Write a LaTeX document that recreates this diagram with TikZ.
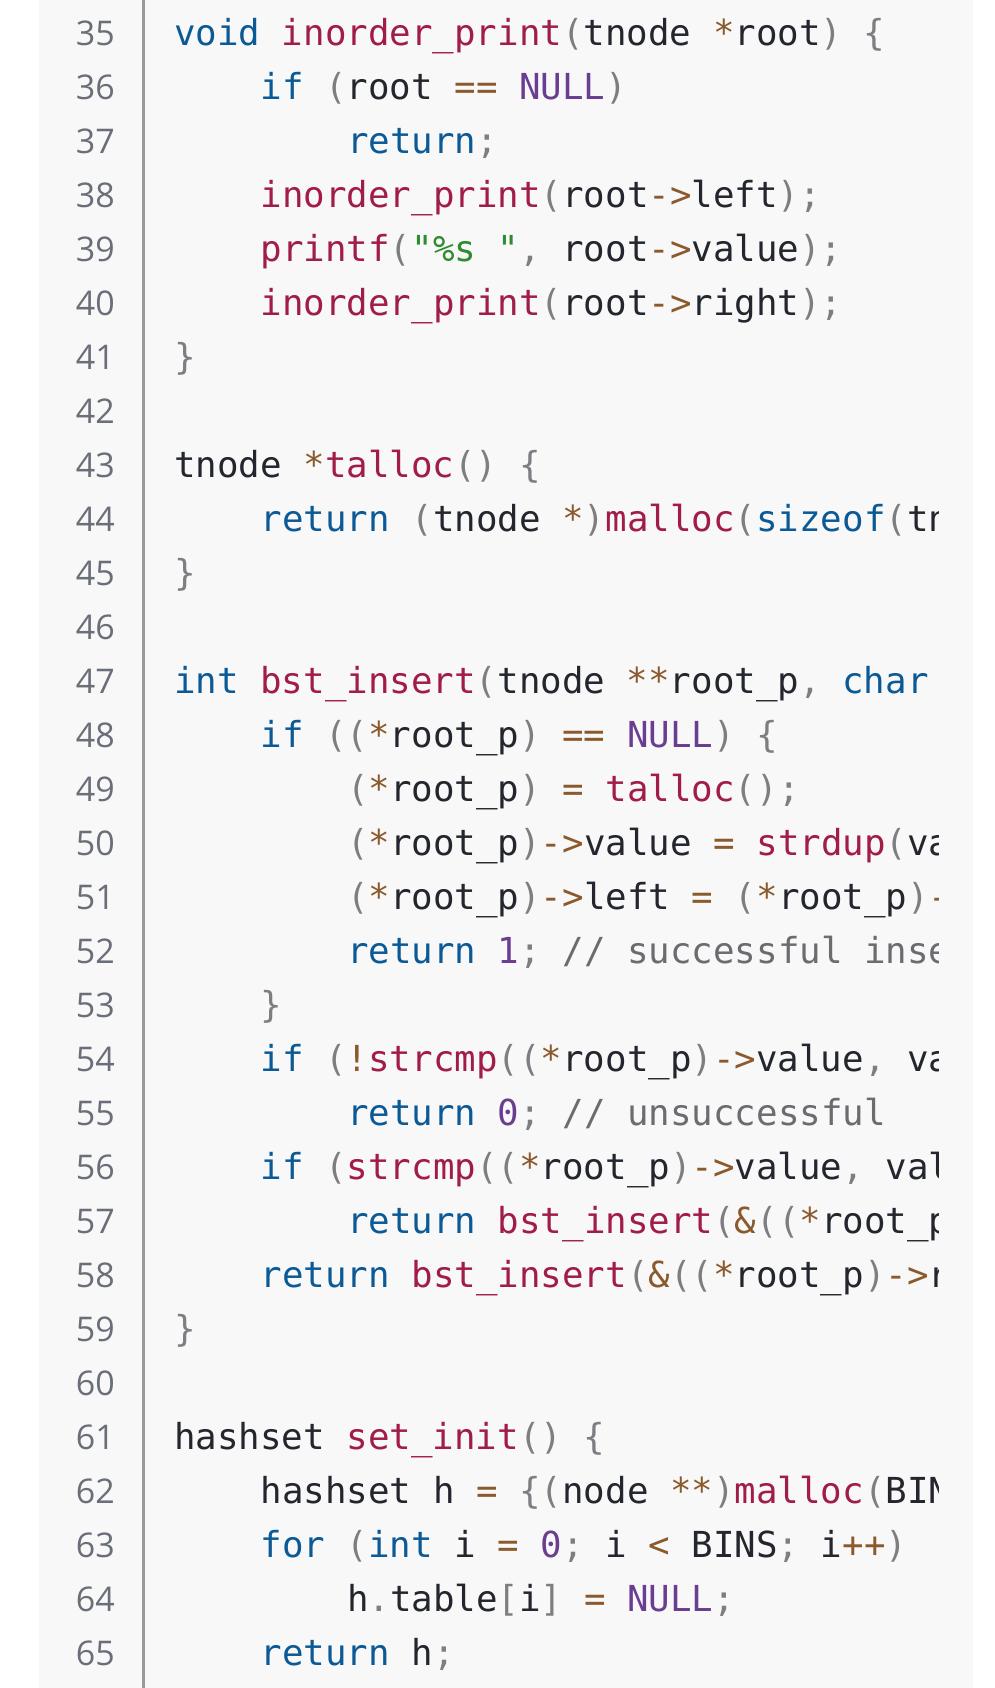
\documentclass[tikz,border=0pt]{standalone}
\usepackage{fontspec}
\newfontfamily\codefont[WordSpace={1,0,0}]{DejaVu Sans Mono}
\newfontfamily\numfont{Open Sans}
\definecolor{ckw}{HTML}{0B5A96}
\definecolor{cfn}{HTML}{A11D48}
\definecolor{cnl}{HTML}{6A3D91}
\definecolor{cst}{HTML}{2E8B2E}
\definecolor{cop}{HTML}{8A5A2C}
\definecolor{cpu}{HTML}{7D7D82}
\definecolor{ctx}{HTML}{24262E}
\definecolor{ccm}{HTML}{6B6B70}
\definecolor{cnum}{HTML}{6A6E78}
\definecolor{cbg}{HTML}{F8F8F9}
\definecolor{cbar}{HTML}{9A9A9E}
\newcommand\Ckw[1]{\textcolor{ckw}{#1}}
\newcommand\Cfn[1]{\textcolor{cfn}{#1}}
\newcommand\Cnl[1]{\textcolor{cnl}{#1}}
\newcommand\Cst[1]{\textcolor{cst}{#1}}
\newcommand\Cop[1]{\textcolor{cop}{#1}}
\newcommand\Cpu[1]{\textcolor{cpu}{#1}}
\newcommand\Ccm[1]{\textcolor{ccm}{#1}}
\tikzset{
  codeln/.style={anchor=base west,inner sep=0pt,font=\codefont\fontsize{35.8}{43}\selectfont,text=ctx},
  numln/.style={anchor=base east,inner sep=0pt,font=\numfont\fontsize{34}{40}\selectfont,text=cnum}
}
\newcommand\cl[3]{\node[codeln] (l#1) at ({174+21.6*#2},{45.7+54*(#1-35)}) {#3};}
\begin{document}
\begin{tikzpicture}[x=1pt,y=-1pt]
\useasboundingbox (0,0) rectangle (995,1688);
\fill[white] (0,0) rectangle (995,1688);
\fill[cbg] (39,0) rectangle (973,1688);
\draw[cbar,line width=2.5pt] (143.5,0) coordinate (bt) -- (143.5,1688) coordinate (bb);
\foreach \i in {35,...,65}{
  \node[numln] (n\i) at (115,{45.7+54*(\i-35)}) {\i};
}
\begin{scope}
\clip (150,0) rectangle (938,1688);
\cl{35}{0}{\Ckw{void} \Cfn{inorder\_print}\Cpu{(}tnode \Cop{*}root\Cpu{)} \Cpu{\{}}
\cl{36}{4}{\Ckw{if} \Cpu{(}root \Cop{==} \Cnl{NULL}\Cpu{)}}
\cl{37}{8}{\Ckw{return}\Cpu{;}}
\cl{38}{4}{\Cfn{inorder\_print}\Cpu{(}root\Cop{->}left\Cpu{);}}
\cl{39}{4}{\Cfn{printf}\Cpu{(}\Cst{"\%s "}\Cpu{,} root\Cop{->}value\Cpu{);}}
\cl{40}{4}{\Cfn{inorder\_print}\Cpu{(}root\Cop{->}right\Cpu{);}}
\cl{41}{0}{\Cpu{\}}}
\cl{43}{0}{tnode \Cop{*}\Cfn{talloc}\Cpu{()} \Cpu{\{}}
\cl{44}{4}{\Ckw{return} \Cpu{(}tnode \Cop{*}\Cpu{)}\Cfn{malloc}\Cpu{(}\Ckw{sizeof}\Cpu{(}tnode\Cpu{));}}
\cl{45}{0}{\Cpu{\}}}
\cl{47}{0}{\Ckw{int} \Cfn{bst\_insert}\Cpu{(}tnode \Cop{**}root\_p\Cpu{,} \Ckw{char} \Cop{*}value\Cpu{)} \Cpu{\{}}
\cl{48}{4}{\Ckw{if} \Cpu{((}\Cop{*}root\_p\Cpu{)} \Cop{==} \Cnl{NULL}\Cpu{)} \Cpu{\{}}
\cl{49}{8}{\Cpu{(}\Cop{*}root\_p\Cpu{)} \Cop{=} \Cfn{talloc}\Cpu{();}}
\cl{50}{8}{\Cpu{(}\Cop{*}root\_p\Cpu{)}\Cop{->}value \Cop{=} \Cfn{strdup}\Cpu{(}value\Cpu{);}}
\cl{51}{8}{\Cpu{(}\Cop{*}root\_p\Cpu{)}\Cop{->}left \Cop{=} \Cpu{(}\Cop{*}root\_p\Cpu{)}\Cop{->}right \Cop{=} \Cnl{NULL}\Cpu{;}}
\cl{52}{8}{\Ckw{return} \Cnl{1}\Cpu{;} \Ccm{// successful insertion}}
\cl{53}{4}{\Cpu{\}}}
\cl{54}{4}{\Ckw{if} \Cpu{(}\Cop{!}\Cfn{strcmp}\Cpu{((}\Cop{*}root\_p\Cpu{)}\Cop{->}value\Cpu{,} value\Cpu{))}}
\cl{55}{8}{\Ckw{return} \Cnl{0}\Cpu{;} \Ccm{// unsuccessful}}
\cl{56}{4}{\Ckw{if} \Cpu{(}\Cfn{strcmp}\Cpu{((}\Cop{*}root\_p\Cpu{)}\Cop{->}value\Cpu{,} value\Cpu{)} \Cop{>} \Cnl{0}\Cpu{)}}
\cl{57}{8}{\Ckw{return} \Cfn{bst\_insert}\Cpu{(}\Cop{\&}\Cpu{((}\Cop{*}root\_p\Cpu{)}\Cop{->}left\Cpu{),} value\Cpu{);}}
\cl{58}{4}{\Ckw{return} \Cfn{bst\_insert}\Cpu{(}\Cop{\&}\Cpu{((}\Cop{*}root\_p\Cpu{)}\Cop{->}right\Cpu{),} value\Cpu{);}}
\cl{59}{0}{\Cpu{\}}}
\cl{61}{0}{hashset \Cfn{set\_init}\Cpu{()} \Cpu{\{}}
\cl{62}{4}{hashset h \Cop{=} \Cpu{\{(}node \Cop{**}\Cpu{)}\Cfn{malloc}\Cpu{(}BINS \Cop{*} \Ckw{sizeof}\Cpu{(}node \Cop{*}\Cpu{))\};}}
\cl{63}{4}{\Ckw{for} \Cpu{(}\Ckw{int} i \Cop{=} \Cnl{0}\Cpu{;} i \Cop{<} BINS\Cpu{;} i\Cop{++}\Cpu{)}}
\cl{64}{8}{h\Cpu{.}table\Cpu{[}i\Cpu{]} \Cop{=} \Cnl{NULL}\Cpu{;}}
\cl{65}{4}{\Ckw{return} h\Cpu{;}}
\end{scope}
\end{tikzpicture}
\end{document}
